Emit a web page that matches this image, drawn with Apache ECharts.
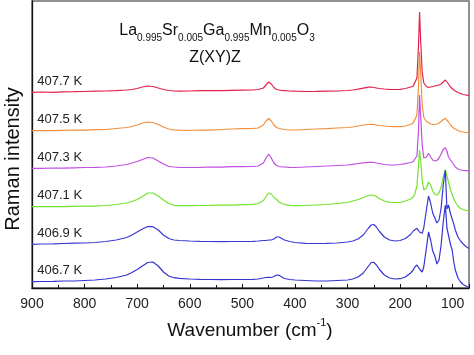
<!DOCTYPE html>
<html><head><meta charset="utf-8">
<script src="https://cdn.jsdelivr.net/npm/echarts@6/dist/echarts.min.js"></script>
<style>html,body{margin:0;padding:0;background:#fff}#c{width:474px;height:355px}</style>
</head><body><div id="c"></div>
<script>
// Wavenumber grid (cm^-1)
const wavenumbers = [900,880,860,840,820,800,780,760,740,720,710,700,690,680,670,660,650,640,630,620,
  600,580,560,540,520,500,480,470,460,455,
  450,445,440,435,430,425,420,410,400,380,
  360,340,320,300,290,280,270,260,255,250,
  245,240,230,220,210,200,190,180,175,172,
  168,165,163,161,158,155,150,146,142,138,
  134,130,126,122,118,114,111,108,104,101,
  98,95,90,85,80,75,69];

// Offset Raman spectra (arbitrary units, vertically stacked)
const spectrum_407_7 = [195.7,196,195.7,196.2,196.3,196.5,196.8,197,197.4,198,198.5,199.5,201,202,201.5,200,198.5,197.5,197,196.8,
  197,197.3,197.5,197.4,197.6,197.8,198,198.5,200,203,
  206,204,200.5,198.5,198,197.5,197.4,197,196.8,196.5,
  196.6,196.8,197,197.5,198,198.8,199.8,200.8,201,200.5,
  200,199.5,199,198.6,198.5,198.7,199.5,201,202,204,
  210,243,276,248,216,205,201.5,200.5,201,201.5,
  202,202.5,203,204,206,208,207,204,201,199,
  198,197,195.5,194.5,193.5,193,192.3];
const spectrum_407_5 = [157.3,157.5,157.4,157.7,158,157.9,158.3,158.5,159.5,160.5,161.5,163,165,166,165.5,163.5,161,159,158,157.8,
  157.5,158,157.9,158.5,159,159.4,159.5,160,163,167,
  169.5,167,163,160.5,159.5,159,158.5,158,158,158.5,
  159,159.4,160,160.5,161,162,163,163.5,163.7,163.5,
  163,162.5,162,161.5,161.3,161.3,162,163.5,165,167,
  173,203,236,216,183,171,166.5,165.5,164,163.5,
  163.5,164,165,166.5,168.5,169.7,168.5,166,163,161,
  159.7,158.5,157.5,156.5,156,155.5,155.3];
const spectrum_407_3 = [119.7,119.7,120,119.9,120.2,120.5,120.7,121,122,123.5,125,126.5,128.5,130.5,130,127,124,121.5,121,120.7,
  120.5,120.7,121,120.9,121.4,121.3,121.5,122,125,130,
  134,130,125,122.5,121.5,121,121,120.7,120.5,121,
  121.5,122,122.5,123,123.7,124.5,125.2,125.7,125.7,125.5,
  125,124.5,123.5,123,123,123.5,124.3,125.5,126.5,128,
  132,158,193,173,143,130,131,134.7,131,128,
  127,127.5,130,134,138.5,140.3,137,131,128,126,
  123.5,121,119,118,117.5,117.3,117];
const spectrum_407_1 = [81.3,81.3,81.5,81.4,81.7,82,81.9,82.5,83.5,85,86.5,88.5,91.5,95,95,92,88,84.5,82.7,82.3,
  82.3,82.5,82.7,83,82.9,83.3,83.7,84.5,87.5,91.5,
  95,94,90.5,88.5,86,84.5,83.7,82.7,82.3,82.5,
  83,83.5,84.5,85.5,87,88.5,90.5,92.5,93,92.7,
  91.5,89.5,87,85.7,85.5,85.5,87,89,91,94,
  102,123,138,128,108,98,100,106,103,97,
  93.5,93,95,101,111,118,112,106,98,93.5,
  89.5,86,82,79.5,78.5,77.7,77.3];
const spectrum_406_9 = [43.7,44,44.2,44.5,44.8,45,45.5,46.5,48,50.5,53,56,59,61.5,61.3,58,53,49.5,48,47.5,
  47,46.7,46.5,46.3,46.5,46.5,46.7,47,47.5,47.5,
  48,48,49,51,51,49.5,48,46.5,45.5,44.7,
  44.5,44.7,45,46,47,49,53,60,63,63.5,
  61,57,51,48,47,47.5,49.5,53.5,57,59,
  59.7,58,56,54.5,54.7,60,78,92,85,75,
  70,65,68,80,103,118,79,83,74,69,
  64,58,51,47,44,41.5,39.5];
const spectrum_406_7 = [6.3,6.5,6.7,7,7,7.5,8,9,10.5,13,15.5,18.5,22,25.5,26,22,16,12,10.3,9.7,
  9,8.7,8.5,8.3,8.5,8.5,8.7,9,10,10.5,
  10.7,10.5,11.5,13,12.7,11,9.5,8.5,8,7.5,
  7,7,7.5,8,9,11,15,22,25.5,25.7,
  23,19,13,10,9,9.3,11,15,18,21,
  23,21.5,19,17,16,21,40,56,48,37,
  32,24,28,43,66,83,60,59,43,38,
  26,18,10,6,3.5,2,0.7];

const temperatures = ['407.7 K','407.5 K','407.3 K','407.1 K','406.9 K','406.7 K'];
const spectra = [spectrum_407_7, spectrum_407_5, spectrum_407_3, spectrum_407_1, spectrum_406_9, spectrum_406_7];
const colors = ['#e3214b','#f0903e','#c24ee4','#72e42c','#3838d6','#3434d2'];

const FONT = '"Liberation Sans", Arial, sans-serif';
const chart = echarts.init(document.getElementById('c'), null, {renderer:'canvas'});

chart.setOption({
  animation: false,
  grid: {left: 32, right: 5, top: 1, bottom: 67, show: true, borderColor: '#6e6e6e', borderWidth: 1.5},
  xAxis: {
    type: 'value', inverse: true, min: 69, max: 900, splitNumber: 8,
    axisLine: {show: true, onZero: false, lineStyle: {color: '#111', width: 1.3}},
    axisTick: {show: true, inside: true, length: 4, lineStyle: {color: '#111', width: 1}},
    minorTick: {show: true, splitNumber: 2, length: 3, lineStyle: {color: '#111', width: 1}},
    axisLabel: {fontSize: 14, color: '#222', fontFamily: FONT, margin: 9,
      formatter: v => (v % 100 === 0 ? String(v) : '')},
    splitLine: {show: false}
  },
  yAxis: {
    type: 'value', min: 0, max: 287,
    axisLine: {show: true, lineStyle: {color: '#111', width: 1.3}},
    axisTick: {show: false}, axisLabel: {show: false}, splitLine: {show: false}
  },
  series: spectra.map((vals, i) => ({
    type: 'line', name: temperatures[i], showSymbol: false, symbol: 'none',
    lineStyle: {color: colors[i], width: 1.2}, z: 2 + i,
    data: wavenumbers.map((w, k) => [w, vals[k]])
  }))
});

const graphics = temperatures.map((t, i) => {
  const p = chart.convertToPixel({gridIndex: 0}, [890, spectra[i][0] + 11]);
  return {type: 'text', x: p[0], y: p[1], style: {text: t, font: '13px ' + FONT, fill: '#222', align: 'left', verticalAlign: 'middle'}};
});
graphics.push({
  type: 'text', x: 217, y: 31,
  style: {
    text: '{n|La}{s|0.995}{n|Sr}{s|0.005}{n|Ga}{s|0.995}{n|Mn}{s|0.005}{n|O}{s|3}',
    align: 'center', verticalAlign: 'middle', fill: '#111',
    rich: {n: {fontSize: 16, fontFamily: FONT, fill: '#111'}, s: {fontSize: 10, fontFamily: FONT, fill: '#111', padding: [14, 0, 0, 0]}}
  }
});
graphics.push({type: 'text', x: 215, y: 58, style: {text: 'Z(XY)Z', font: '16px ' + FONT, fill: '#111', align: 'center', verticalAlign: 'middle'}});
graphics.push({
  type: 'text', x: 250, y: 331,
  style: {
    text: '{n|Wavenumber (cm}{p|-1}{n|)}', align: 'center', verticalAlign: 'middle', fill: '#111',
    rich: {n: {fontSize: 19, fontFamily: FONT, fill: '#111'}, p: {fontSize: 11, fontFamily: FONT, fill: '#111', padding: [0, 0, 17, 0]}}
  }
});
graphics.push({type: 'text', x: 13, y: 159, rotation: Math.PI / 2,
  style: {text: 'Raman intensity', font: '20px ' + FONT, fill: '#111', align: 'center', verticalAlign: 'middle'}});
chart.setOption({graphic: graphics});
</script>
</body></html>
